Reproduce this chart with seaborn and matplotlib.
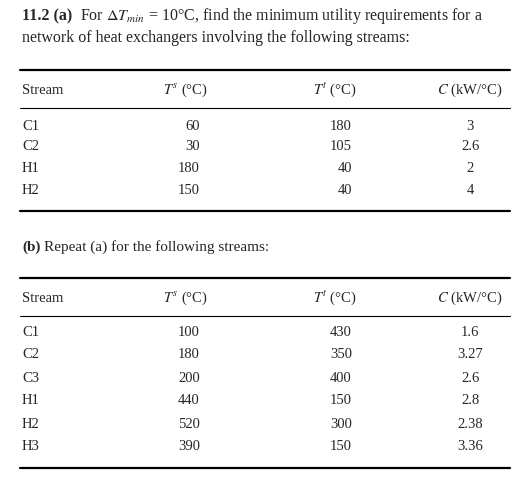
import matplotlib
matplotlib.use("Agg")
import matplotlib.pyplot as plt
import seaborn as sns

sns.set_style("white")
plt.rcParams['font.family'] = ['Liberation Serif', 'DejaVu Serif']
plt.rcParams['mathtext.fontset'] = 'stix'

# table (a)
streams_a = ["C1", "C2", "H1", "H2"]
ts_a = ["60", "30", "180", "150"]
tt_a = ["180", "105", "40", "40"]
c_a = ["3", "2.6", "2", "4"]

# table (b)
streams_b = ["C1", "C2", "C3", "H1", "H2", "H3"]
ts_b = ["100", "180", "200", "440", "520", "390"]
tt_b = ["430", "350", "400", "150", "300", "150"]
c_b = ["1.6", "3.27", "2.6", "2.8", "2.38", "3.36"]

headers = ["Stream", r"$T^s$ (°C)", r"$T^t$ (°C)", r"$C$ (kW/°C)"]

W, H = 525, 491
fig = plt.figure(figsize=(W / 100, H / 100), dpi=100)
ax = fig.add_axes([0, 0, 1, 1])
ax.set_xlim(0, W)
ax.set_ylim(H, 0)
ax.axis("off")

fs = 10.5
ax.text(22, 16, "11.2 (a)", fontsize=11.5, fontweight="bold", va="center")
ax.text(80, 16, r"For $\Delta T_{min}$ = 10°C, find the minimum utility requirements for a",
        fontsize=11.5, va="center")
ax.text(22, 38, "network of heat exchangers involving the following streams:",
        fontsize=11.5, va="center")


def draw_table(top, rows, streams, ts, tt, c, ts_x, tt_x):
    ax.plot([20, 510], [top, top], color="black", lw=1.6)
    hy = top + 20
    ax.text(22, hy, headers[0], fontsize=fs, va="center")
    ax.text(185, hy, headers[1], fontsize=fs, va="center", ha="center")
    ax.text(335, hy, headers[2], fontsize=fs, va="center", ha="center")
    ax.text(470, hy, headers[3], fontsize=fs, va="center", ha="center")
    ax.plot([20, 510], [top + 38, top + 38], color="black", lw=0.8)
    for i, y in enumerate(rows):
        ax.text(22, y, streams[i], fontsize=fs, va="center")
        ax.text(ts_x, y, ts[i], fontsize=fs, va="center", ha="right")
        ax.text(tt_x, y, tt[i], fontsize=fs, va="center", ha="right")
        ax.text(470, y, c[i], fontsize=fs, va="center", ha="center")
    bot = rows[-1] + 21
    ax.plot([20, 510], [bot, bot], color="black", lw=1.6)


draw_table(70, [126, 147, 168, 190], streams_a, ts_a, tt_a, c_a, 200, 352)

ax.text(22, 247, "(b)", fontsize=11, fontweight="bold", va="center")
ax.text(44, 247, "Repeat (a) for the following streams:", fontsize=11, va="center")

draw_table(278, [333, 355, 378, 401, 424, 447], streams_b, ts_b, tt_b, c_b, 200, 352)

fig.savefig("out.png", dpi=100)
